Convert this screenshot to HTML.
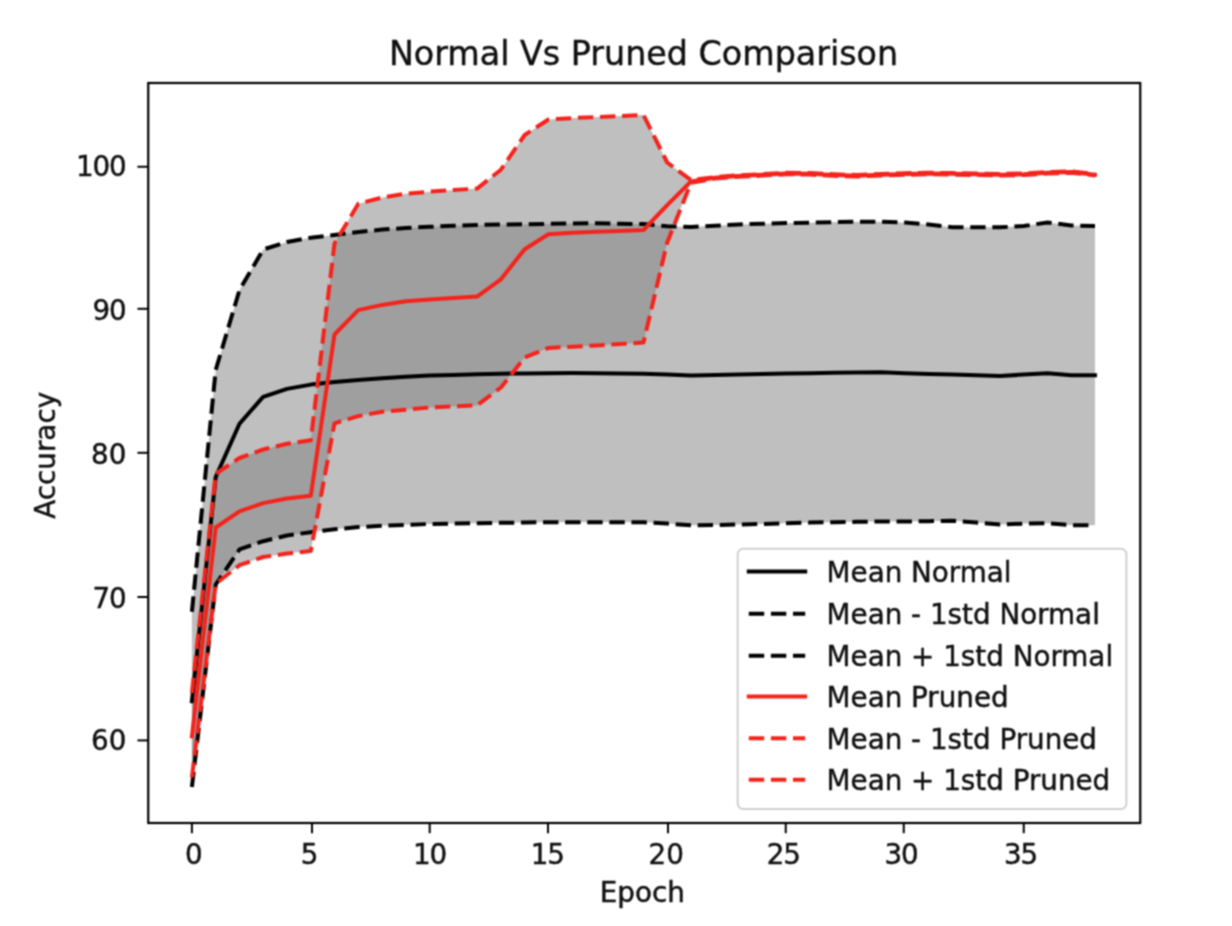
<!DOCTYPE html>
<html><head><meta charset="utf-8"><title>Normal Vs Pruned Comparison</title>
<style>
html,body{margin:0;padding:0;background:#fff;}
body{width:1232px;height:926px;overflow:hidden;}
svg{display:block;}
text{font-family:"DejaVu Sans","Liberation Sans",sans-serif;fill:#111;stroke:#111;stroke-width:0.45px;}
.t{font-size:27.78px;}
.title{font-size:33.33px;}
.tk{letter-spacing:-1.1px;}
</style></head><body>
<svg width="1232" height="926" viewBox="0 0 1232 926">
<defs><filter id="soft" x="0" y="0" width="1232" height="926" filterUnits="userSpaceOnUse" color-interpolation-filters="sRGB"><feConvolveMatrix order="3" kernelMatrix="1 2 1 2 4 2 1 2 1" divisor="16" edgeMode="duplicate" preserveAlpha="false"/></filter></defs>
<g filter="url(#soft)">
<rect width="1232" height="926" fill="#fff"/>

<g fill="#808080" fill-opacity="0.5" stroke="none">
<polygon points="191.9,611.7 215.7,370.0 239.5,290.0 263.2,249.5 287.0,242.0 310.8,237.7 334.5,234.9 358.3,232.0 382.1,229.6 405.8,228.0 429.6,226.8 453.4,225.8 477.1,225.0 500.9,224.5 524.7,224.3 548.4,223.8 572.2,223.5 596.0,223.3 619.7,223.7 643.5,224.1 667.2,226.3 691.0,227.0 714.8,225.8 738.5,224.4 762.3,223.8 786.1,223.1 809.8,222.7 833.6,222.1 857.4,221.8 881.1,221.8 904.9,222.5 928.7,224.4 952.4,227.3 976.2,227.3 1000.0,227.3 1023.7,226.0 1047.5,222.5 1071.3,225.4 1095.0,226.0 1095.0,525.2 1071.3,525.2 1047.5,523.3 1023.7,523.6 1000.0,524.5 976.2,522.6 952.4,520.8 928.7,521.2 904.9,521.5 881.1,521.5 857.4,521.8 833.6,522.2 809.8,522.6 786.1,523.3 762.3,524.0 738.5,524.5 714.8,525.0 691.0,525.2 667.2,523.6 643.5,522.2 619.7,522.2 596.0,522.2 572.2,522.2 548.4,522.2 524.7,522.5 500.9,522.8 477.1,523.2 453.4,523.6 429.6,524.0 405.8,524.8 382.1,525.8 358.3,527.1 334.5,529.3 310.8,532.2 287.0,535.5 263.2,541.2 239.5,549.4 215.7,584.5 191.9,787.0"/>
<polygon points="191.9,693.0 215.7,473.7 239.5,458.0 263.2,449.5 287.0,443.8 310.8,440.2 334.5,243.5 358.3,203.8 382.1,197.5 405.8,193.7 429.6,191.7 453.4,190.0 477.1,188.6 500.9,169.7 524.7,135.0 548.4,119.5 572.2,118.1 596.0,117.1 619.7,116.1 643.5,115.1 667.2,162.5 691.0,180.1 714.8,177.1 738.5,175.3 762.3,174.1 786.1,172.7 809.8,173.1 833.6,174.3 857.4,175.0 881.1,174.0 904.9,173.2 928.7,172.7 952.4,173.1 976.2,173.5 1000.0,174.0 1023.7,173.5 1047.5,172.1 1071.3,171.2 1095.0,174.0 1095.0,175.5 1071.3,172.7 1047.5,173.6 1023.7,175.0 1000.0,175.5 976.2,175.0 952.4,174.6 928.7,174.2 904.9,174.8 881.1,175.5 857.4,176.5 833.6,175.8 809.8,174.6 786.1,174.2 762.3,175.6 738.5,176.8 714.8,178.6 691.0,182.8 667.2,242.5 643.5,342.5 619.7,344.1 596.0,345.5 572.2,346.8 548.4,347.9 524.7,357.5 500.9,387.5 477.1,405.4 453.4,406.4 429.6,407.5 405.8,409.7 382.1,411.8 358.3,416.1 334.5,423.3 310.8,551.0 287.0,553.6 263.2,557.0 239.5,565.2 215.7,583.8 191.9,777.5"/>
</g>
<g fill="none" stroke-width="4.0" stroke-linejoin="round">
<polyline stroke="#000" stroke-linecap="square" points="191.9,701.3 215.7,477.0 239.5,423.7 263.2,396.8 287.0,388.9 310.8,384.6 334.5,382.0 358.3,380.0 382.1,378.2 405.8,376.7 429.6,375.4 453.4,374.9 477.1,374.3 500.9,373.7 524.7,373.4 548.4,373.2 572.2,373.0 596.0,373.2 619.7,373.4 643.5,373.7 667.2,374.6 691.0,375.4 714.8,375.0 738.5,374.6 762.3,373.9 786.1,373.4 809.8,373.2 833.6,372.7 857.4,372.4 881.1,372.3 904.9,373.2 928.7,373.9 952.4,374.6 976.2,375.3 1000.0,376.0 1023.7,374.6 1047.5,373.2 1071.3,375.3 1095.0,375.3"/>
<polyline stroke="#000" stroke-dasharray="15.4 6.7" points="191.9,787.0 215.7,584.5 239.5,549.4 263.2,541.2 287.0,535.5 310.8,532.2 334.5,529.3 358.3,527.1 382.1,525.8 405.8,524.8 429.6,524.0 453.4,523.6 477.1,523.2 500.9,522.8 524.7,522.5 548.4,522.2 572.2,522.2 596.0,522.2 619.7,522.2 643.5,522.2 667.2,523.6 691.0,525.2 714.8,525.0 738.5,524.5 762.3,524.0 786.1,523.3 809.8,522.6 833.6,522.2 857.4,521.8 881.1,521.5 904.9,521.5 928.7,521.2 952.4,520.8 976.2,522.6 1000.0,524.5 1023.7,523.6 1047.5,523.3 1071.3,525.2 1095.0,525.2"/>
<polyline stroke="#000" stroke-dasharray="15.4 6.7" points="191.9,611.7 215.7,370.0 239.5,290.0 263.2,249.5 287.0,242.0 310.8,237.7 334.5,234.9 358.3,232.0 382.1,229.6 405.8,228.0 429.6,226.8 453.4,225.8 477.1,225.0 500.9,224.5 524.7,224.3 548.4,223.8 572.2,223.5 596.0,223.3 619.7,223.7 643.5,224.1 667.2,226.3 691.0,227.0 714.8,225.8 738.5,224.4 762.3,223.8 786.1,223.1 809.8,222.7 833.6,222.1 857.4,221.8 881.1,221.8 904.9,222.5 928.7,224.4 952.4,227.3 976.2,227.3 1000.0,227.3 1023.7,226.0 1047.5,222.5 1071.3,225.4 1095.0,226.0"/>
<polyline stroke="#f4231b" stroke-linecap="square" points="191.9,736.4 215.7,527.5 239.5,511.3 263.2,503.1 287.0,498.5 310.8,495.7 334.5,334.5 358.3,310.1 382.1,304.9 405.8,301.2 429.6,299.5 453.4,298.1 477.1,296.6 500.9,279.3 524.7,249.2 548.4,234.2 572.2,232.7 596.0,231.7 619.7,230.9 643.5,230.0 667.2,205.1 691.0,181.4 714.8,177.8 738.5,176.0 762.3,174.8 786.1,173.4 809.8,173.8 833.6,175.0 857.4,175.7 881.1,174.7 904.9,174.0 928.7,173.4 952.4,173.8 976.2,174.3 1000.0,174.7 1023.7,174.3 1047.5,172.8 1071.3,172.0 1095.0,174.7"/>
<polyline stroke="#f4231b" stroke-dasharray="15.4 6.7" points="191.9,777.5 215.7,583.8 239.5,565.2 263.2,557.0 287.0,553.6 310.8,551.0 334.5,423.3 358.3,416.1 382.1,411.8 405.8,409.7 429.6,407.5 453.4,406.4 477.1,405.4 500.9,387.5 524.7,357.5 548.4,347.9 572.2,346.8 596.0,345.5 619.7,344.1 643.5,342.5 667.2,242.5 691.0,182.8 714.8,178.6 738.5,176.8 762.3,175.6 786.1,174.2 809.8,174.6 833.6,175.8 857.4,176.5 881.1,175.5 904.9,174.8 928.7,174.2 952.4,174.6 976.2,175.0 1000.0,175.5 1023.7,175.0 1047.5,173.6 1071.3,172.7 1095.0,175.5"/>
<polyline stroke="#f4231b" stroke-dasharray="15.4 6.7" points="191.9,693.0 215.7,473.7 239.5,458.0 263.2,449.5 287.0,443.8 310.8,440.2 334.5,243.5 358.3,203.8 382.1,197.5 405.8,193.7 429.6,191.7 453.4,190.0 477.1,188.6 500.9,169.7 524.7,135.0 548.4,119.5 572.2,118.1 596.0,117.1 619.7,116.1 643.5,115.1 667.2,162.5 691.0,180.1 714.8,177.1 738.5,175.3 762.3,174.1 786.1,172.7 809.8,173.1 833.6,174.3 857.4,175.0 881.1,174.0 904.9,173.2 928.7,172.7 952.4,173.1 976.2,173.5 1000.0,174.0 1023.7,173.5 1047.5,172.1 1071.3,171.2 1095.0,174.0"/>
</g>
<rect x="148.25" y="83.0" width="992.0" height="740.0" fill="none" stroke="#000" stroke-width="2.2"/>
<g stroke="#000" stroke-width="2.0">
<line x1="191.90" y1="823.0" x2="191.90" y2="833.2"/>
<line x1="312.00" y1="823.0" x2="312.00" y2="833.2"/>
<line x1="429.70" y1="823.0" x2="429.70" y2="833.2"/>
<line x1="548.00" y1="823.0" x2="548.00" y2="833.2"/>
<line x1="668.00" y1="823.0" x2="668.00" y2="833.2"/>
<line x1="785.75" y1="823.0" x2="785.75" y2="833.2"/>
<line x1="903.75" y1="823.0" x2="903.75" y2="833.2"/>
<line x1="1023.75" y1="823.0" x2="1023.75" y2="833.2"/>
<line x1="137.45" y1="166.75" x2="148.25" y2="166.75"/>
<line x1="137.45" y1="308.8" x2="148.25" y2="308.8"/>
<line x1="137.45" y1="452.8" x2="148.25" y2="452.8"/>
<line x1="137.45" y1="597.0" x2="148.25" y2="597.0"/>
<line x1="137.45" y1="740.4" x2="148.25" y2="740.4"/>
</g>
<text class="t tk" x="193.20" y="864.2" text-anchor="middle">0</text>
<text class="t tk" x="309.15" y="864.2" text-anchor="middle">5</text>
<text class="t tk" x="429.45" y="864.2" text-anchor="middle">10</text>
<text class="t tk" x="547.20" y="864.2" text-anchor="middle">15</text>
<text class="t" x="666.25" y="864.2" text-anchor="middle">20</text>
<text class="t tk" x="783.25" y="864.2" text-anchor="middle">25</text>
<text class="t tk" x="901.05" y="864.2" text-anchor="middle">30</text>
<text class="t tk" x="1020.45" y="864.2" text-anchor="middle">35</text>
<text class="t tk" x="125.6" y="176.10" text-anchor="end">100</text>
<text class="t tk" x="125.6" y="320.00" text-anchor="end">90</text>
<text class="t" x="126.4" y="464.10" text-anchor="end">80</text>
<text class="t tk" x="125.6" y="608.40" text-anchor="end">70</text>
<text class="t" x="126.4" y="750.40" text-anchor="end">60</text>
<text class="t" x="642.3" y="902.1" text-anchor="middle">Epoch</text>
<text class="t" transform="translate(55.4,455.3) rotate(-90)" text-anchor="middle">Accuracy</text>
<text class="title" x="643.5" y="64.7" text-anchor="middle">Normal Vs Pruned Comparison</text>
<rect x="737.7" y="548.8" width="388.7" height="260.2" rx="5.5" ry="5.5" fill="#fff" fill-opacity="0.8" stroke="#d0d0d0" stroke-width="2.0"/>
<line x1="748.8" y1="571.6" x2="805.2" y2="571.6" stroke="#000" stroke-width="4.0" stroke-linecap="square"/>
<text class="t" x="826.6" y="581.90">Mean Normal</text>
<line x1="748.8" y1="613.8" x2="805.2" y2="613.8" stroke="#000" stroke-width="4.0" stroke-dasharray="15.4 6.7"/>
<text class="t" x="826.6" y="623.75">Mean - 1std Normal</text>
<line x1="748.8" y1="655.7" x2="805.2" y2="655.7" stroke="#000" stroke-width="4.0" stroke-dasharray="15.4 6.7"/>
<text class="t" x="826.6" y="665.60">Mean + 1std Normal</text>
<line x1="748.8" y1="696.4" x2="805.2" y2="696.4" stroke="#f4231b" stroke-width="4.0" stroke-linecap="square"/>
<text class="t" x="826.6" y="707.30">Mean Pruned</text>
<line x1="748.8" y1="738.2" x2="805.2" y2="738.2" stroke="#f4231b" stroke-width="4.0" stroke-dasharray="15.4 6.7"/>
<text class="t" x="826.6" y="748.60">Mean - 1std Pruned</text>
<line x1="748.8" y1="779.8" x2="805.2" y2="779.8" stroke="#f4231b" stroke-width="4.0" stroke-dasharray="15.4 6.7"/>
<text class="t" x="826.6" y="790.20">Mean + 1std Pruned</text>
</g></svg></body></html>
